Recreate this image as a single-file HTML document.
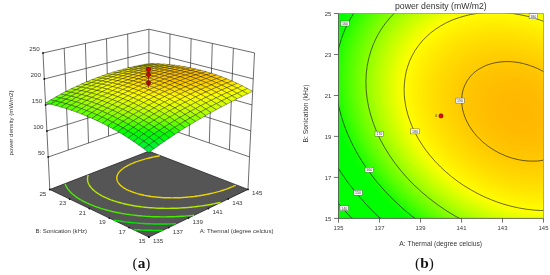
<!DOCTYPE html><html><head><meta charset="utf-8"><title>power density</title><style>html,body{margin:0;padding:0;background:#fff}body{width:550px;height:275px;overflow:hidden;position:relative}</style></head><body><svg width="550" height="275" viewBox="0 0 550 275" style="position:absolute;left:0;top:0">
<rect width="550" height="275" fill="#fff"/>
<g stroke="#2e2e2e" stroke-width="0.7" fill="none">
<path d="M48.2,157.0 L43.0,53.0"/>
<path d="M249.5,156.9 L254.5,52.9"/>
<path d="M68.3,150.0 L64.2,48.2"/>
<path d="M229.4,149.9 L233.4,48.2"/>
<path d="M88.5,143.0 L85.4,43.5"/>
<path d="M209.3,143.0 L212.3,43.4"/>
<path d="M108.6,136.1 L106.5,38.7"/>
<path d="M189.2,136.0 L191.1,38.7"/>
<path d="M128.8,129.1 L127.7,34.0"/>
<path d="M169.0,129.1 L170.0,33.9"/>
<path d="M148.9,122.1 L148.9,29.2"/>
<path d="M48.2,157.0 L148.9,122.1 L249.5,156.9"/>
<path d="M46.9,131.0 L148.9,98.9 L250.8,130.9"/>
<path d="M45.6,105.0 L148.9,75.7 L252.0,104.9"/>
<path d="M44.3,79.0 L148.9,52.4 L253.3,78.9"/>
<path d="M43.0,53.0 L148.9,29.2 L254.5,52.9"/>
<path d="M48.2,157.0 L49.8,189.5"/>
<path d="M249.5,156.9 L248.0,189.4"/>
</g>
<path d="M49.8,189.5 L148.9,237.1 L248.0,189.4 L148.9,151.2 Z" fill="#555" stroke="#111" stroke-width="0.7"/>
<path d="M134.0,229.5 L136.4,229.7 L138.7,229.8 L141.1,230.0 L143.4,230.1 L145.8,230.2 L148.2,230.3 L150.6,230.3 L153.0,230.4 L155.4,230.4 L157.8,230.4 L160.2,230.4 L162.7,230.4" fill="none" stroke="#00ea00" stroke-width="1.4"/>
<path d="M113.7,220.1 L115.6,220.4 L117.5,220.7 L119.4,221.0 L121.3,221.3 L123.3,221.6 L125.3,221.9 L127.3,222.1 L129.3,222.3 L131.3,222.6 L133.3,222.8 L135.4,222.9 L137.4,223.1 L139.5,223.3 L141.6,223.4 L143.7,223.5 L145.8,223.7 L147.9,223.8 L150.0,223.8 L152.1,223.9 L154.2,224.0 L156.4,224.0 L158.5,224.0 L160.7,224.0 L162.9,224.0 L165.0,224.0 L167.2,224.0 L169.4,223.9 L171.6,223.9 L173.7,223.8 L175.9,223.7" fill="none" stroke="#00ea00" stroke-width="1.4"/>
<path d="M65.1,183.7 L65.3,184.4 L65.6,185.0 L65.8,185.6 L66.1,186.3 L66.5,186.9 L66.9,187.5 L67.3,188.1 L67.7,188.8 L67.7,188.8 L68.1,189.4 L68.6,190.0 L69.1,190.6 L69.7,191.2 L70.2,191.8 L70.8,192.5 L71.5,193.1 L72.1,193.7 L72.8,194.3 L73.5,194.9 L74.2,195.4 L75.0,196.0 L75.8,196.6 L76.6,197.2 L77.5,197.8 L78.3,198.3 L79.2,198.9 L80.2,199.5 L81.1,200.0 L82.1,200.6 L83.1,201.1 L84.1,201.6 L85.2,202.2 L86.2,202.7 L87.3,203.2 L88.5,203.7 L89.6,204.2 L90.8,204.7 L92.0,205.2 L93.2,205.7 L94.4,206.1 L95.7,206.6 L97.0,207.1 L98.3,207.5 L99.6,207.9 L100.9,208.4 L102.3,208.8 L103.7,209.2 L105.1,209.6 L106.5,210.0 L108.0,210.4 L109.4,210.8 L110.9,211.1 L112.4,211.5 L114.0,211.8 L115.5,212.2 L117.0,212.5 L118.6,212.8 L120.2,213.1 L121.8,213.4 L123.4,213.7 L125.1,213.9 L126.7,214.2 L128.4,214.4 L130.1,214.7 L131.7,214.9 L133.4,215.1 L135.2,215.3 L136.9,215.5 L138.6,215.7 L140.4,215.8 L142.2,216.0 L143.9,216.1 L145.7,216.3 L147.5,216.4 L149.3,216.5 L151.1,216.6 L152.9,216.7 L154.8,216.7 L156.6,216.8 L158.4,216.8 L160.3,216.9 L162.1,216.9 L164.0,216.9 L165.9,216.9 L167.7,216.8 L169.6,216.8 L171.5,216.8 L173.4,216.7 L175.3,216.6 L177.1,216.5 L179.0,216.5 L180.9,216.3 L182.8,216.2 L184.7,216.1 L186.6,215.9 L188.5,215.8 L190.4,215.6 L192.3,215.4 L194.1,215.2" fill="none" stroke="#48ea00" stroke-width="1.4"/>
<path d="M88.3,174.9 L88.1,175.4 L87.9,175.9 L87.8,176.4 L87.7,176.9 L87.6,177.4 L87.6,177.9 L87.5,178.4 L87.5,178.9 L87.5,179.4 L87.6,179.9 L87.6,180.4 L87.7,180.9 L87.8,181.4 L87.9,181.9 L88.1,182.5 L88.3,183.0 L88.5,183.5 L88.7,184.0 L89.0,184.5 L89.2,185.0 L89.5,185.5 L89.9,186.0 L90.2,186.5 L90.2,186.5 L90.6,187.0 L91.0,187.4 L91.4,187.9 L91.8,188.4 L92.3,188.9 L92.7,189.4 L93.3,189.9 L93.8,190.3 L94.3,190.8 L94.9,191.3 L95.5,191.8 L96.1,192.2 L96.8,192.7 L97.4,193.1 L98.1,193.6 L98.8,194.0 L99.5,194.5 L100.3,194.9 L101.0,195.3 L101.8,195.8 L102.6,196.2 L103.5,196.6 L104.3,197.0 L105.2,197.4 L106.1,197.8 L107.0,198.2 L107.9,198.6 L108.8,199.0 L109.8,199.4 L110.8,199.8 L111.8,200.1 L112.8,200.5 L113.8,200.8 L114.9,201.2 L116.0,201.5 L117.1,201.9 L118.2,202.2 L119.3,202.5 L120.4,202.8 L121.6,203.1 L122.7,203.4 L123.9,203.7 L125.1,204.0 L126.3,204.3 L127.6,204.5 L128.8,204.8 L130.1,205.0 L131.3,205.3 L132.6,205.5 L133.9,205.7 L135.2,206.0 L136.5,206.2 L137.9,206.4 L139.2,206.5 L140.6,206.7 L141.9,206.9 L143.3,207.1 L144.7,207.2 L146.1,207.4 L147.5,207.5 L148.9,207.6 L150.3,207.7 L151.8,207.8 L153.2,207.9 L154.7,208.0 L156.1,208.1 L157.6,208.2 L159.1,208.2 L160.5,208.3 L162.0,208.3 L163.5,208.3 L165.0,208.4 L166.5,208.4 L168.0,208.4 L169.5,208.4 L171.0,208.3 L172.5,208.3 L174.0,208.3 L175.6,208.2 L177.1,208.2 L178.6,208.1 L180.1,208.0 L181.6,207.9 L183.2,207.8 L184.7,207.7 L186.2,207.6 L187.8,207.5 L189.3,207.4 L190.8,207.2 L192.3,207.0 L193.8,206.9 L195.4,206.7 L196.9,206.5 L198.4,206.3 L199.9,206.1 L201.4,205.9 L202.9,205.7 L204.4,205.5 L205.9,205.2 L207.4,205.0 L208.9,204.7 L210.3,204.5 L211.8,204.2 L213.3,203.9 L214.7,203.6 L216.2,203.3 L217.6,203.0 L219.1,202.7 L220.5,202.4" fill="none" stroke="#b2ea00" stroke-width="1.4"/>
<path d="M159.7,155.8 L158.7,156.0 L157.8,156.2 L156.8,156.3 L155.8,156.5 L154.8,156.7 L153.9,156.9 L152.9,157.1 L152.0,157.3 L151.1,157.5 L150.2,157.8 L149.2,158.0 L148.3,158.2 L147.4,158.4 L146.5,158.7 L145.7,158.9 L144.8,159.1 L143.9,159.4 L143.1,159.6 L142.3,159.9 L141.4,160.1 L140.6,160.4 L139.8,160.6 L139.0,160.9 L138.2,161.1 L137.5,161.4 L136.7,161.7 L135.9,161.9 L135.2,162.2 L134.5,162.5 L133.8,162.8 L133.1,163.1 L132.4,163.4 L131.7,163.6 L131.1,163.9 L130.4,164.2 L129.8,164.5 L129.2,164.8 L128.5,165.1 L128.0,165.5 L127.4,165.8 L126.8,166.1 L126.3,166.4 L125.7,166.7 L125.2,167.0 L124.7,167.3 L124.2,167.7 L123.7,168.0 L123.3,168.3 L122.8,168.7 L122.4,169.0 L122.0,169.3 L121.6,169.7 L121.2,170.0 L120.8,170.3 L120.5,170.7 L120.1,171.0 L119.8,171.4 L119.5,171.7 L119.2,172.0 L118.9,172.4 L118.7,172.7 L118.4,173.1 L118.2,173.4 L118.0,173.8 L117.8,174.1 L117.6,174.5 L117.5,174.8 L117.3,175.2 L117.2,175.5 L117.1,175.9 L117.0,176.3 L116.9,176.6 L116.9,177.0 L116.8,177.3 L116.8,177.7 L116.8,178.0 L116.8,178.4 L116.8,178.7 L116.9,179.1 L116.9,179.4 L117.0,179.8 L117.1,180.1 L117.2,180.5 L117.3,180.8 L117.5,181.2 L117.6,181.5 L117.8,181.9 L118.0,182.2 L118.2,182.6 L118.4,182.9 L118.7,183.2 L118.7,183.2 L118.9,183.6 L119.2,183.9 L119.5,184.3 L119.8,184.6 L120.1,184.9 L120.4,185.2 L120.8,185.6 L121.2,185.9 L121.6,186.2 L122.0,186.5 L122.4,186.8 L122.8,187.2 L123.3,187.5 L123.7,187.8 L124.2,188.1 L124.7,188.4 L125.2,188.7 L125.7,189.0 L126.2,189.3 L126.8,189.6 L127.4,189.8 L127.9,190.1 L128.5,190.4 L129.1,190.7 L129.8,190.9 L130.4,191.2 L131.0,191.5 L131.7,191.7 L132.4,192.0 L133.1,192.2 L133.8,192.5 L134.5,192.7 L135.2,192.9 L135.9,193.2 L136.7,193.4 L137.4,193.6 L138.2,193.8 L139.0,194.1 L139.8,194.3 L140.6,194.5 L141.4,194.7 L142.2,194.8 L143.1,195.0 L143.9,195.2 L144.8,195.4 L145.6,195.6 L146.5,195.7 L147.4,195.9 L148.3,196.0 L149.2,196.2 L150.1,196.3 L151.1,196.5 L152.0,196.6 L152.9,196.7 L153.9,196.8 L154.8,196.9 L155.8,197.0 L156.8,197.1 L157.7,197.2 L158.7,197.3 L159.7,197.4 L160.7,197.5 L161.7,197.5 L162.7,197.6 L163.7,197.7 L164.7,197.7 L165.8,197.7 L166.8,197.8 L167.8,197.8 L168.8,197.8 L169.9,197.8 L170.9,197.9 L172.0,197.9 L173.0,197.9 L174.1,197.8 L175.1,197.8 L176.2,197.8 L177.3,197.8 L178.3,197.7 L179.4,197.7 L180.4,197.7 L181.5,197.6 L182.6,197.5 L183.6,197.5 L184.7,197.4 L185.8,197.3 L186.8,197.2 L187.9,197.1 L189.0,197.0 L190.0,196.9 L191.1,196.8 L192.2,196.7 L193.2,196.6 L194.3,196.5 L195.3,196.3 L196.4,196.2 L197.4,196.0 L198.5,195.9 L199.5,195.7 L200.6,195.5 L201.6,195.4 L202.6,195.2 L203.7,195.0 L204.7,194.8 L205.7,194.6 L206.7,194.4 L207.7,194.2 L208.7,194.0 L209.7,193.8 L210.7,193.6 L211.7,193.3 L212.7,193.1 L213.6,192.9 L214.6,192.6 L215.5,192.4 L216.5,192.1 L217.4,191.9 L218.4,191.6 L219.3,191.4 L220.2,191.1 L221.1,190.8 L222.0,190.5 L222.9,190.2 L223.8,190.0 L224.6,189.7 L225.5,189.4 L226.3,189.1 L227.2,188.8 L228.0,188.5 L228.8,188.2 L229.6,187.8 L230.4,187.5 L231.2,187.2 L232.0,186.9 L232.7,186.6 L233.5,186.2 L234.2,185.9 L235.0,185.6 L235.7,185.2" fill="none" stroke="#ead500" stroke-width="1.4"/>
<g stroke="#000" stroke-opacity="0.75" stroke-width="0.45" stroke-linejoin="round">
<path d="M148.9,64.6 L154.1,63.6 L148.9,63.5 L143.7,64.5 Z" fill="#eeff00"/>
<path d="M143.7,65.7 L148.9,64.6 L143.7,64.5 L138.5,65.5 Z" fill="#f3ff00"/>
<path d="M154.1,64.8 L159.3,63.8 L154.1,63.6 L148.9,64.6 Z" fill="#fdff00"/>
<path d="M138.5,66.9 L143.7,65.7 L138.5,65.5 L133.3,66.7 Z" fill="#f6ff00"/>
<path d="M148.9,66.0 L154.1,64.8 L148.9,64.6 L143.7,65.7 Z" fill="#fffd00"/>
<path d="M159.3,65.2 L164.5,64.2 L159.3,63.8 L154.1,64.8 Z" fill="#fff300"/>
<path d="M133.3,68.2 L138.5,66.9 L133.3,66.7 L128.1,67.9 Z" fill="#f8ff00"/>
<path d="M143.7,67.2 L148.9,66.0 L143.7,65.7 L138.5,66.9 Z" fill="#fff900"/>
<path d="M154.1,66.4 L159.3,65.2 L154.1,64.8 L148.9,66.0 Z" fill="#ffee00"/>
<path d="M164.5,65.8 L169.7,64.6 L164.5,64.2 L159.3,65.2 Z" fill="#ffe600"/>
<path d="M128.1,69.6 L133.3,68.2 L128.1,67.9 L122.9,69.3 Z" fill="#f9ff00"/>
<path d="M138.5,68.6 L143.7,67.2 L138.5,66.9 L133.3,68.2 Z" fill="#fff700"/>
<path d="M148.9,67.7 L154.1,66.4 L148.9,66.0 L143.7,67.2 Z" fill="#ffec00"/>
<path d="M159.3,67.0 L164.5,65.8 L159.3,65.2 L154.1,66.4 Z" fill="#ffe200"/>
<path d="M169.7,66.4 L174.9,65.2 L169.7,64.6 L164.5,65.8 Z" fill="#ffdb00"/>
<path d="M122.9,71.1 L128.1,69.6 L122.9,69.3 L117.7,70.8 Z" fill="#f8ff00"/>
<path d="M133.3,70.0 L138.5,68.6 L133.3,68.2 L128.1,69.6 Z" fill="#fff700"/>
<path d="M143.7,69.1 L148.9,67.7 L143.7,67.2 L138.5,68.6 Z" fill="#ffea00"/>
<path d="M154.1,68.3 L159.3,67.0 L154.1,66.4 L148.9,67.7 Z" fill="#ffe000"/>
<path d="M164.5,67.7 L169.7,66.4 L164.5,65.8 L159.3,67.0 Z" fill="#ffd800"/>
<path d="M174.9,67.2 L180.1,66.0 L174.9,65.2 L169.7,66.4 Z" fill="#ffd200"/>
<path d="M117.7,72.7 L122.9,71.1 L117.7,70.8 L112.5,72.3 Z" fill="#f7ff00"/>
<path d="M128.1,71.6 L133.3,70.0 L128.1,69.6 L122.9,71.1 Z" fill="#fff800"/>
<path d="M138.5,70.6 L143.7,69.1 L138.5,68.6 L133.3,70.0 Z" fill="#ffea00"/>
<path d="M148.9,69.8 L154.1,68.3 L148.9,67.7 L143.7,69.1 Z" fill="#ffdf00"/>
<path d="M159.3,69.1 L164.5,67.7 L159.3,67.0 L154.1,68.3 Z" fill="#ffd600"/>
<path d="M169.7,68.5 L174.9,67.2 L169.7,66.4 L164.5,67.7 Z" fill="#ffcf00"/>
<path d="M180.1,68.1 L185.3,66.8 L180.1,66.0 L174.9,67.2 Z" fill="#ffcb00"/>
<path d="M112.5,74.4 L117.7,72.7 L112.5,72.3 L107.3,74.0 Z" fill="#f4ff00"/>
<path d="M122.8,73.3 L128.1,71.6 L122.9,71.1 L117.7,72.7 Z" fill="#fffa00"/>
<path d="M133.2,72.2 L138.5,70.6 L133.3,70.0 L128.1,71.6 Z" fill="#ffeb00"/>
<path d="M143.7,71.3 L148.9,69.8 L143.7,69.1 L138.5,70.6 Z" fill="#ffdf00"/>
<path d="M154.1,70.6 L159.3,69.1 L154.1,68.3 L148.9,69.8 Z" fill="#ffd500"/>
<path d="M164.5,70.0 L169.7,68.5 L164.5,67.7 L159.3,69.1 Z" fill="#ffcd00"/>
<path d="M174.9,69.5 L180.1,68.1 L174.9,67.2 L169.7,68.5 Z" fill="#ffc800"/>
<path d="M185.3,69.2 L190.5,67.8 L185.3,66.8 L180.1,68.1 Z" fill="#ffc600"/>
<path d="M107.3,76.3 L112.5,74.4 L107.3,74.0 L102.1,75.8 Z" fill="#f0ff00"/>
<path d="M117.6,75.0 L122.8,73.3 L117.7,72.7 L112.5,74.4 Z" fill="#fffd00"/>
<path d="M128.0,73.9 L133.2,72.2 L128.1,71.6 L122.8,73.3 Z" fill="#ffee00"/>
<path d="M138.4,73.0 L143.7,71.3 L138.5,70.6 L133.2,72.2 Z" fill="#ffe000"/>
<path d="M148.9,72.2 L154.1,70.6 L148.9,69.8 L143.7,71.3 Z" fill="#ffd500"/>
<path d="M159.3,71.5 L164.5,70.0 L159.3,69.1 L154.1,70.6 Z" fill="#ffcd00"/>
<path d="M169.7,71.0 L174.9,69.5 L169.7,68.5 L164.5,70.0 Z" fill="#ffc700"/>
<path d="M180.1,70.7 L185.3,69.2 L180.1,68.1 L174.9,69.5 Z" fill="#ffc300"/>
<path d="M190.5,70.4 L195.8,69.0 L190.5,67.8 L185.3,69.2 Z" fill="#ffc300"/>
<path d="M102.1,78.2 L107.3,76.3 L102.1,75.8 L96.9,77.7 Z" fill="#eaff00"/>
<path d="M112.5,76.9 L117.6,75.0 L112.5,74.4 L107.3,76.3 Z" fill="#fcff00"/>
<path d="M122.8,75.8 L128.0,73.9 L122.8,73.3 L117.6,75.0 Z" fill="#fff100"/>
<path d="M133.2,74.8 L138.4,73.0 L133.2,72.2 L128.0,73.9 Z" fill="#ffe300"/>
<path d="M143.6,73.9 L148.9,72.2 L143.7,71.3 L138.4,73.0 Z" fill="#ffd700"/>
<path d="M154.1,73.2 L159.3,71.5 L154.1,70.6 L148.9,72.2 Z" fill="#ffce00"/>
<path d="M164.5,72.7 L169.7,71.0 L164.5,70.0 L159.3,71.5 Z" fill="#ffc700"/>
<path d="M174.9,72.2 L180.1,70.7 L174.9,69.5 L169.7,71.0 Z" fill="#ffc200"/>
<path d="M185.3,71.9 L190.5,70.4 L185.3,69.2 L180.1,70.7 Z" fill="#ffc000"/>
<path d="M195.8,71.7 L201.0,70.2 L195.8,69.0 L190.5,70.4 Z" fill="#ffc100"/>
<path d="M96.9,80.3 L102.1,78.2 L96.9,77.7 L91.7,79.7 Z" fill="#e3ff00"/>
<path d="M107.3,78.9 L112.5,76.9 L107.3,76.3 L102.1,78.2 Z" fill="#f6ff00"/>
<path d="M117.6,77.7 L122.8,75.8 L117.6,75.0 L112.5,76.9 Z" fill="#fff700"/>
<path d="M128.0,76.6 L133.2,74.8 L128.0,73.9 L122.8,75.8 Z" fill="#ffe700"/>
<path d="M138.4,75.7 L143.6,73.9 L138.4,73.0 L133.2,74.8 Z" fill="#ffda00"/>
<path d="M148.9,75.0 L154.1,73.2 L148.9,72.2 L143.6,73.9 Z" fill="#ffd000"/>
<path d="M159.3,74.4 L164.5,72.7 L159.3,71.5 L154.1,73.2 Z" fill="#ffc800"/>
<path d="M169.7,73.9 L174.9,72.2 L169.7,71.0 L164.5,72.7 Z" fill="#ffc300"/>
<path d="M180.1,73.6 L185.3,71.9 L180.1,70.7 L174.9,72.2 Z" fill="#ffc000"/>
<path d="M190.5,73.4 L195.8,71.7 L190.5,70.4 L185.3,71.9 Z" fill="#ffbf00"/>
<path d="M201.0,73.2 L206.2,71.7 L201.0,70.2 L195.8,71.7 Z" fill="#ffc100"/>
<path d="M91.7,82.5 L96.9,80.3 L91.7,79.7 L86.6,81.8 Z" fill="#daff00"/>
<path d="M102.1,81.0 L107.3,78.9 L102.1,78.2 L96.9,80.3 Z" fill="#efff00"/>
<path d="M112.4,79.8 L117.6,77.7 L112.5,76.9 L107.3,78.9 Z" fill="#fffd00"/>
<path d="M122.8,78.6 L128.0,76.6 L122.8,75.8 L117.6,77.7 Z" fill="#ffed00"/>
<path d="M133.2,77.7 L138.4,75.7 L133.2,74.8 L128.0,76.6 Z" fill="#ffdf00"/>
<path d="M143.6,76.9 L148.9,75.0 L143.6,73.9 L138.4,75.7 Z" fill="#ffd300"/>
<path d="M154.1,76.2 L159.3,74.4 L154.1,73.2 L148.9,75.0 Z" fill="#ffcb00"/>
<path d="M164.5,75.7 L169.7,73.9 L164.5,72.7 L159.3,74.4 Z" fill="#ffc400"/>
<path d="M174.9,75.3 L180.1,73.6 L174.9,72.2 L169.7,73.9 Z" fill="#ffc000"/>
<path d="M185.3,75.1 L190.5,73.4 L185.3,71.9 L180.1,73.6 Z" fill="#ffbf00"/>
<path d="M195.7,74.9 L201.0,73.2 L195.8,71.7 L190.5,73.4 Z" fill="#ffc000"/>
<path d="M206.2,74.9 L211.4,73.2 L206.2,71.7 L201.0,73.2 Z" fill="#ffc300"/>
<path d="M86.5,84.7 L91.7,82.5 L86.6,81.8 L81.4,84.0 Z" fill="#d0ff00"/>
<path d="M96.9,83.3 L102.1,81.0 L96.9,80.3 L91.7,82.5 Z" fill="#e7ff00"/>
<path d="M107.3,81.9 L112.4,79.8 L107.3,78.9 L102.1,81.0 Z" fill="#f9ff00"/>
<path d="M117.6,80.7 L122.8,78.6 L117.6,77.7 L112.4,79.8 Z" fill="#fff400"/>
<path d="M128.0,79.7 L133.2,77.7 L128.0,76.6 L122.8,78.6 Z" fill="#ffe500"/>
<path d="M138.4,78.9 L143.6,76.9 L138.4,75.7 L133.2,77.7 Z" fill="#ffd800"/>
<path d="M148.8,78.1 L154.1,76.2 L148.9,75.0 L143.6,76.9 Z" fill="#ffce00"/>
<path d="M159.3,77.6 L164.5,75.7 L159.3,74.4 L154.1,76.2 Z" fill="#ffc700"/>
<path d="M169.7,77.2 L174.9,75.3 L169.7,73.9 L164.5,75.7 Z" fill="#ffc200"/>
<path d="M180.1,76.9 L185.3,75.1 L180.1,73.6 L174.9,75.3 Z" fill="#ffc000"/>
<path d="M190.5,76.7 L195.7,74.9 L190.5,73.4 L185.3,75.1 Z" fill="#ffbf00"/>
<path d="M200.9,76.7 L206.2,74.9 L201.0,73.2 L195.7,74.9 Z" fill="#ffc200"/>
<path d="M211.4,76.7 L216.6,74.9 L211.4,73.2 L206.2,74.9 Z" fill="#ffc700"/>
<path d="M81.4,87.2 L86.5,84.7 L81.4,84.0 L76.2,86.4 Z" fill="#c4ff00"/>
<path d="M91.7,85.6 L96.9,83.3 L91.7,82.5 L86.5,84.7 Z" fill="#ddff00"/>
<path d="M102.1,84.2 L107.3,81.9 L102.1,81.0 L96.9,83.3 Z" fill="#f1ff00"/>
<path d="M112.4,83.0 L117.6,80.7 L112.4,79.8 L107.3,81.9 Z" fill="#fffc00"/>
<path d="M122.8,81.9 L128.0,79.7 L122.8,78.6 L117.6,80.7 Z" fill="#ffec00"/>
<path d="M133.2,81.0 L138.4,78.9 L133.2,77.7 L128.0,79.7 Z" fill="#ffdf00"/>
<path d="M143.6,80.2 L148.8,78.1 L143.6,76.9 L138.4,78.9 Z" fill="#ffd400"/>
<path d="M154.1,79.6 L159.3,77.6 L154.1,76.2 L148.8,78.1 Z" fill="#ffcb00"/>
<path d="M164.5,79.1 L169.7,77.2 L164.5,75.7 L159.3,77.6 Z" fill="#ffc500"/>
<path d="M174.9,78.8 L180.1,76.9 L174.9,75.3 L169.7,77.2 Z" fill="#ffc200"/>
<path d="M185.3,78.6 L190.5,76.7 L185.3,75.1 L180.1,76.9 Z" fill="#ffc100"/>
<path d="M195.7,78.5 L200.9,76.7 L195.7,74.9 L190.5,76.7 Z" fill="#ffc200"/>
<path d="M206.1,78.6 L211.4,76.7 L206.2,74.9 L200.9,76.7 Z" fill="#ffc600"/>
<path d="M216.5,78.7 L221.8,76.8 L216.6,74.9 L211.4,76.7 Z" fill="#ffcd00"/>
<path d="M76.2,89.7 L81.4,87.2 L76.2,86.4 L71.1,88.8 Z" fill="#b3ff00"/>
<path d="M86.6,88.1 L91.7,85.6 L86.5,84.7 L81.4,87.2 Z" fill="#d1ff00"/>
<path d="M96.9,86.6 L102.1,84.2 L96.9,83.3 L91.7,85.6 Z" fill="#e7ff00"/>
<path d="M107.3,85.3 L112.4,83.0 L107.3,81.9 L102.1,84.2 Z" fill="#f9ff00"/>
<path d="M117.6,84.2 L122.8,81.9 L117.6,80.7 L112.4,83.0 Z" fill="#fff500"/>
<path d="M128.0,83.2 L133.2,81.0 L128.0,79.7 L122.8,81.9 Z" fill="#ffe600"/>
<path d="M138.4,82.4 L143.6,80.2 L138.4,78.9 L133.2,81.0 Z" fill="#ffda00"/>
<path d="M148.8,81.7 L154.1,79.6 L148.8,78.1 L143.6,80.2 Z" fill="#ffd100"/>
<path d="M159.3,81.2 L164.5,79.1 L159.3,77.6 L154.1,79.6 Z" fill="#ffca00"/>
<path d="M169.7,80.8 L174.9,78.8 L169.7,77.2 L164.5,79.1 Z" fill="#ffc500"/>
<path d="M180.1,80.6 L185.3,78.6 L180.1,76.9 L174.9,78.8 Z" fill="#ffc300"/>
<path d="M190.5,80.5 L195.7,78.5 L190.5,76.7 L185.3,78.6 Z" fill="#ffc400"/>
<path d="M200.9,80.5 L206.1,78.6 L200.9,76.7 L195.7,78.5 Z" fill="#ffc700"/>
<path d="M211.3,80.6 L216.5,78.7 L211.4,76.7 L206.1,78.6 Z" fill="#ffcc00"/>
<path d="M221.7,80.8 L226.9,78.8 L221.8,76.8 L216.5,78.7 Z" fill="#ffd400"/>
<path d="M71.1,92.3 L76.2,89.7 L71.1,88.8 L65.9,91.4 Z" fill="#a0ff00"/>
<path d="M81.4,90.7 L86.6,88.1 L81.4,87.2 L76.2,89.7 Z" fill="#c2ff00"/>
<path d="M91.7,89.2 L96.9,86.6 L91.7,85.6 L86.6,88.1 Z" fill="#dbff00"/>
<path d="M102.1,87.8 L107.3,85.3 L102.1,84.2 L96.9,86.6 Z" fill="#efff00"/>
<path d="M112.5,86.6 L117.6,84.2 L112.4,83.0 L107.3,85.3 Z" fill="#ffff00"/>
<path d="M122.8,85.5 L128.0,83.2 L122.8,81.9 L117.6,84.2 Z" fill="#ffef00"/>
<path d="M133.2,84.6 L138.4,82.4 L133.2,81.0 L128.0,83.2 Z" fill="#ffe200"/>
<path d="M143.6,83.9 L148.8,81.7 L143.6,80.2 L138.4,82.4 Z" fill="#ffd800"/>
<path d="M154.1,83.3 L159.3,81.2 L154.1,79.6 L148.8,81.7 Z" fill="#ffd000"/>
<path d="M164.5,82.9 L169.7,80.8 L164.5,79.1 L159.3,81.2 Z" fill="#ffca00"/>
<path d="M174.9,82.7 L180.1,80.6 L174.9,78.8 L169.7,80.8 Z" fill="#ffc700"/>
<path d="M185.3,82.5 L190.5,80.5 L185.3,78.6 L180.1,80.6 Z" fill="#ffc700"/>
<path d="M195.7,82.5 L200.9,80.5 L195.7,78.5 L190.5,80.5 Z" fill="#ffc900"/>
<path d="M206.1,82.6 L211.3,80.6 L206.1,78.6 L200.9,80.5 Z" fill="#ffcd00"/>
<path d="M216.5,82.8 L221.7,80.8 L216.5,78.7 L211.3,80.6 Z" fill="#ffd400"/>
<path d="M226.9,83.0 L232.1,81.0 L226.9,78.8 L221.7,80.8 Z" fill="#ffdd00"/>
<path d="M66.0,95.1 L71.1,92.3 L65.9,91.4 L60.8,94.1 Z" fill="#8bff00"/>
<path d="M76.3,93.4 L81.4,90.7 L76.2,89.7 L71.1,92.3 Z" fill="#afff00"/>
<path d="M86.6,91.8 L91.7,89.2 L86.6,88.1 L81.4,90.7 Z" fill="#cdff00"/>
<path d="M96.9,90.4 L102.1,87.8 L96.9,86.6 L91.7,89.2 Z" fill="#e3ff00"/>
<path d="M107.3,89.1 L112.5,86.6 L107.3,85.3 L102.1,87.8 Z" fill="#f5ff00"/>
<path d="M117.6,88.0 L122.8,85.5 L117.6,84.2 L112.5,86.6 Z" fill="#fff900"/>
<path d="M128.0,87.0 L133.2,84.6 L128.0,83.2 L122.8,85.5 Z" fill="#ffeb00"/>
<path d="M138.4,86.2 L143.6,83.9 L138.4,82.4 L133.2,84.6 Z" fill="#ffe000"/>
<path d="M148.8,85.6 L154.1,83.3 L148.8,81.7 L143.6,83.9 Z" fill="#ffd700"/>
<path d="M159.3,85.2 L164.5,82.9 L159.3,81.2 L154.1,83.3 Z" fill="#ffd100"/>
<path d="M169.7,84.8 L174.9,82.7 L169.7,80.8 L164.5,82.9 Z" fill="#ffcc00"/>
<path d="M180.1,84.7 L185.3,82.5 L180.1,80.6 L174.9,82.7 Z" fill="#ffcb00"/>
<path d="M190.5,84.7 L195.7,82.5 L190.5,80.5 L185.3,82.5 Z" fill="#ffcc00"/>
<path d="M200.9,84.7 L206.1,82.6 L200.9,80.5 L195.7,82.5 Z" fill="#ffcf00"/>
<path d="M211.3,84.9 L216.5,82.8 L211.3,80.6 L206.1,82.6 Z" fill="#ffd500"/>
<path d="M221.7,85.2 L226.9,83.0 L221.7,80.8 L216.5,82.8 Z" fill="#ffde00"/>
<path d="M232.0,85.5 L237.3,83.3 L232.1,81.0 L226.9,83.0 Z" fill="#ffe800"/>
<path d="M60.8,98.0 L66.0,95.1 L60.8,94.1 L55.7,97.0 Z" fill="#72ff00"/>
<path d="M71.1,96.2 L76.3,93.4 L71.1,92.3 L66.0,95.1 Z" fill="#9aff00"/>
<path d="M81.4,94.6 L86.6,91.8 L81.4,90.7 L76.3,93.4 Z" fill="#bcff00"/>
<path d="M91.8,93.1 L96.9,90.4 L91.7,89.2 L86.6,91.8 Z" fill="#d5ff00"/>
<path d="M102.1,91.7 L107.3,89.1 L102.1,87.8 L96.9,90.4 Z" fill="#eaff00"/>
<path d="M112.5,90.6 L117.6,88.0 L112.5,86.6 L107.3,89.1 Z" fill="#f9ff00"/>
<path d="M122.8,89.5 L128.0,87.0 L122.8,85.5 L117.6,88.0 Z" fill="#fff600"/>
<path d="M133.2,88.7 L138.4,86.2 L133.2,84.6 L128.0,87.0 Z" fill="#ffea00"/>
<path d="M143.6,88.0 L148.8,85.6 L143.6,83.9 L138.4,86.2 Z" fill="#ffe000"/>
<path d="M154.0,87.5 L159.3,85.2 L154.1,83.3 L148.8,85.6 Z" fill="#ffd800"/>
<path d="M164.5,87.1 L169.7,84.8 L164.5,82.9 L159.3,85.2 Z" fill="#ffd300"/>
<path d="M174.9,86.9 L180.1,84.7 L174.9,82.7 L169.7,84.8 Z" fill="#ffd100"/>
<path d="M185.3,86.9 L190.5,84.7 L185.3,82.5 L180.1,84.7 Z" fill="#ffd100"/>
<path d="M195.7,86.9 L200.9,84.7 L195.7,82.5 L190.5,84.7 Z" fill="#ffd300"/>
<path d="M206.1,87.1 L211.3,84.9 L206.1,82.6 L200.9,84.7 Z" fill="#ffd800"/>
<path d="M216.5,87.4 L221.7,85.2 L216.5,82.8 L211.3,84.9 Z" fill="#ffdf00"/>
<path d="M226.8,87.7 L232.0,85.5 L226.9,83.0 L221.7,85.2 Z" fill="#ffe900"/>
<path d="M237.2,88.1 L242.4,85.8 L237.3,83.3 L232.0,85.5 Z" fill="#fff500"/>
<path d="M55.7,101.1 L60.8,98.0 L55.7,97.0 L50.6,99.9 Z" fill="#57ff00"/>
<path d="M66.0,99.2 L71.1,96.2 L66.0,95.1 L60.8,98.0 Z" fill="#81ff00"/>
<path d="M76.3,97.5 L81.4,94.6 L76.3,93.4 L71.1,96.2 Z" fill="#a6ff00"/>
<path d="M86.6,95.9 L91.8,93.1 L86.6,91.8 L81.4,94.6 Z" fill="#c6ff00"/>
<path d="M96.9,94.5 L102.1,91.7 L96.9,90.4 L91.8,93.1 Z" fill="#dbff00"/>
<path d="M107.3,93.3 L112.5,90.6 L107.3,89.1 L102.1,91.7 Z" fill="#eeff00"/>
<path d="M117.7,92.2 L122.8,89.5 L117.6,88.0 L112.5,90.6 Z" fill="#fcff00"/>
<path d="M128.0,91.2 L133.2,88.7 L128.0,87.0 L122.8,89.5 Z" fill="#fff500"/>
<path d="M138.4,90.5 L143.6,88.0 L138.4,86.2 L133.2,88.7 Z" fill="#ffea00"/>
<path d="M148.8,89.9 L154.0,87.5 L148.8,85.6 L143.6,88.0 Z" fill="#ffe100"/>
<path d="M159.2,89.5 L164.5,87.1 L159.3,85.2 L154.0,87.5 Z" fill="#ffdb00"/>
<path d="M169.7,89.3 L174.9,86.9 L169.7,84.8 L164.5,87.1 Z" fill="#ffd800"/>
<path d="M180.1,89.2 L185.3,86.9 L180.1,84.7 L174.9,86.9 Z" fill="#ffd600"/>
<path d="M190.5,89.2 L195.7,86.9 L190.5,84.7 L185.3,86.9 Z" fill="#ffd800"/>
<path d="M200.9,89.4 L206.1,87.1 L200.9,84.7 L195.7,86.9 Z" fill="#ffdc00"/>
<path d="M211.2,89.6 L216.5,87.4 L211.3,84.9 L206.1,87.1 Z" fill="#ffe200"/>
<path d="M221.6,90.0 L226.8,87.7 L221.7,85.2 L216.5,87.4 Z" fill="#ffeb00"/>
<path d="M232.0,90.4 L237.2,88.1 L232.0,85.5 L226.8,87.7 Z" fill="#fff600"/>
<path d="M242.3,90.8 L247.5,88.5 L242.4,85.8 L237.2,88.1 Z" fill="#faff00"/>
<path d="M50.6,104.2 L55.7,101.1 L50.6,99.9 L45.5,103.0 Z" fill="#39ff00"/>
<path d="M60.9,102.3 L66.0,99.2 L60.8,98.0 L55.7,101.1 Z" fill="#66ff00"/>
<path d="M71.2,100.5 L76.3,97.5 L71.1,96.2 L66.0,99.2 Z" fill="#8eff00"/>
<path d="M81.5,98.9 L86.6,95.9 L81.4,94.6 L76.3,97.5 Z" fill="#b0ff00"/>
<path d="M91.8,97.4 L96.9,94.5 L91.8,93.1 L86.6,95.9 Z" fill="#ccff00"/>
<path d="M102.1,96.1 L107.3,93.3 L102.1,91.7 L96.9,94.5 Z" fill="#e0ff00"/>
<path d="M112.5,94.9 L117.7,92.2 L112.5,90.6 L107.3,93.3 Z" fill="#f0ff00"/>
<path d="M122.9,93.9 L128.0,91.2 L122.8,89.5 L117.7,92.2 Z" fill="#fdff00"/>
<path d="M133.3,93.1 L138.4,90.5 L133.2,88.7 L128.0,91.2 Z" fill="#fff500"/>
<path d="M143.6,92.5 L148.8,89.9 L143.6,88.0 L138.4,90.5 Z" fill="#ffeb00"/>
<path d="M154.0,92.0 L159.2,89.5 L154.0,87.5 L148.8,89.9 Z" fill="#ffe400"/>
<path d="M164.4,91.7 L169.7,89.3 L164.5,87.1 L159.2,89.5 Z" fill="#ffe000"/>
<path d="M174.8,91.6 L180.1,89.2 L174.9,86.9 L169.7,89.3 Z" fill="#ffde00"/>
<path d="M185.2,91.6 L190.5,89.2 L185.3,86.9 L180.1,89.2 Z" fill="#ffde00"/>
<path d="M195.6,91.7 L200.9,89.4 L195.7,86.9 L190.5,89.2 Z" fill="#ffe100"/>
<path d="M206.0,92.0 L211.2,89.6 L206.1,87.1 L200.9,89.4 Z" fill="#ffe600"/>
<path d="M216.4,92.4 L221.6,90.0 L216.5,87.4 L211.2,89.6 Z" fill="#ffee00"/>
<path d="M226.8,92.8 L232.0,90.4 L226.8,87.7 L221.6,90.0 Z" fill="#fff900"/>
<path d="M237.1,93.3 L242.3,90.8 L237.2,88.1 L232.0,90.4 Z" fill="#f9ff00"/>
<path d="M247.5,93.8 L252.7,91.3 L247.5,88.5 L242.3,90.8 Z" fill="#ebff00"/>
<path d="M55.8,105.5 L60.9,102.3 L55.7,101.1 L50.6,104.2 Z" fill="#48ff00"/>
<path d="M66.0,103.7 L71.2,100.5 L66.0,99.2 L60.9,102.3 Z" fill="#72ff00"/>
<path d="M76.3,102.0 L81.5,98.9 L76.3,97.5 L71.2,100.5 Z" fill="#98ff00"/>
<path d="M86.6,100.4 L91.8,97.4 L86.6,95.9 L81.5,98.9 Z" fill="#b7ff00"/>
<path d="M97.0,99.0 L102.1,96.1 L96.9,94.5 L91.8,97.4 Z" fill="#d0ff00"/>
<path d="M107.3,97.8 L112.5,94.9 L107.3,93.3 L102.1,96.1 Z" fill="#e2ff00"/>
<path d="M117.7,96.7 L122.9,93.9 L117.7,92.2 L112.5,94.9 Z" fill="#f1ff00"/>
<path d="M128.1,95.8 L133.3,93.1 L128.0,91.2 L122.9,93.9 Z" fill="#fdff00"/>
<path d="M138.5,95.1 L143.6,92.5 L138.4,90.5 L133.3,93.1 Z" fill="#fff700"/>
<path d="M148.8,94.6 L154.0,92.0 L148.8,89.9 L143.6,92.5 Z" fill="#ffef00"/>
<path d="M159.2,94.3 L164.4,91.7 L159.2,89.5 L154.0,92.0 Z" fill="#ffe900"/>
<path d="M169.6,94.1 L174.8,91.6 L169.7,89.3 L164.4,91.7 Z" fill="#ffe600"/>
<path d="M180.0,94.1 L185.2,91.6 L180.1,89.2 L174.8,91.6 Z" fill="#ffe600"/>
<path d="M190.4,94.2 L195.6,91.7 L190.5,89.2 L185.2,91.6 Z" fill="#ffe800"/>
<path d="M200.8,94.4 L206.0,92.0 L200.9,89.4 L195.6,91.7 Z" fill="#ffec00"/>
<path d="M211.2,94.8 L216.4,92.4 L211.2,89.6 L206.0,92.0 Z" fill="#fff300"/>
<path d="M221.5,95.2 L226.8,92.8 L221.6,90.0 L216.4,92.4 Z" fill="#fffc00"/>
<path d="M231.9,95.7 L237.1,93.3 L232.0,90.4 L226.8,92.8 Z" fill="#f7ff00"/>
<path d="M242.2,96.3 L247.5,93.8 L242.3,90.8 L237.1,93.3 Z" fill="#e9ff00"/>
<path d="M60.9,107.0 L66.0,103.7 L60.9,102.3 L55.8,105.5 Z" fill="#54ff00"/>
<path d="M71.2,105.2 L76.3,102.0 L71.2,100.5 L66.0,103.7 Z" fill="#7cff00"/>
<path d="M81.5,103.6 L86.6,100.4 L81.5,98.9 L76.3,102.0 Z" fill="#9eff00"/>
<path d="M91.8,102.1 L97.0,99.0 L91.8,97.4 L86.6,100.4 Z" fill="#bbff00"/>
<path d="M102.2,100.8 L107.3,97.8 L102.1,96.1 L97.0,99.0 Z" fill="#d2ff00"/>
<path d="M112.5,99.7 L117.7,96.7 L112.5,94.9 L107.3,97.8 Z" fill="#e2ff00"/>
<path d="M122.9,98.7 L128.1,95.8 L122.9,93.9 L117.7,96.7 Z" fill="#f0ff00"/>
<path d="M133.3,97.9 L138.5,95.1 L133.3,93.1 L128.1,95.8 Z" fill="#faff00"/>
<path d="M143.7,97.3 L148.8,94.6 L143.6,92.5 L138.5,95.1 Z" fill="#fffb00"/>
<path d="M154.0,96.9 L159.2,94.3 L154.0,92.0 L148.8,94.6 Z" fill="#fff400"/>
<path d="M164.4,96.7 L169.6,94.1 L164.4,91.7 L159.2,94.3 Z" fill="#fff000"/>
<path d="M174.8,96.6 L180.0,94.1 L174.8,91.6 L169.6,94.1 Z" fill="#ffef00"/>
<path d="M185.2,96.7 L190.4,94.2 L185.2,91.6 L180.0,94.1 Z" fill="#fff000"/>
<path d="M195.6,97.0 L200.8,94.4 L195.6,91.7 L190.4,94.2 Z" fill="#fff300"/>
<path d="M206.0,97.3 L211.2,94.8 L206.0,92.0 L200.8,94.4 Z" fill="#fff900"/>
<path d="M216.3,97.8 L221.5,95.2 L216.4,92.4 L211.2,94.8 Z" fill="#fdff00"/>
<path d="M226.7,98.3 L231.9,95.7 L226.8,92.8 L221.5,95.2 Z" fill="#f3ff00"/>
<path d="M237.0,98.9 L242.2,96.3 L237.1,93.3 L231.9,95.7 Z" fill="#e7ff00"/>
<path d="M66.1,108.6 L71.2,105.2 L66.0,103.7 L60.9,107.0 Z" fill="#5dff00"/>
<path d="M76.4,106.9 L81.5,103.6 L76.3,102.0 L71.2,105.2 Z" fill="#83ff00"/>
<path d="M86.7,105.3 L91.8,102.1 L86.6,100.4 L81.5,103.6 Z" fill="#a2ff00"/>
<path d="M97.0,103.9 L102.2,100.8 L97.0,99.0 L91.8,102.1 Z" fill="#bdff00"/>
<path d="M107.4,102.7 L112.5,99.7 L107.3,97.8 L102.2,100.8 Z" fill="#d2ff00"/>
<path d="M117.7,101.7 L122.9,98.7 L117.7,96.7 L112.5,99.7 Z" fill="#e1ff00"/>
<path d="M128.1,100.8 L133.3,97.9 L128.1,95.8 L122.9,98.7 Z" fill="#edff00"/>
<path d="M138.5,100.2 L143.7,97.3 L138.5,95.1 L133.3,97.9 Z" fill="#f6ff00"/>
<path d="M148.8,99.7 L154.0,96.9 L148.8,94.6 L143.7,97.3 Z" fill="#fdff00"/>
<path d="M159.2,99.4 L164.4,96.7 L159.2,94.3 L154.0,96.9 Z" fill="#fffc00"/>
<path d="M169.6,99.3 L174.8,96.6 L169.6,94.1 L164.4,96.7 Z" fill="#fff900"/>
<path d="M180.0,99.4 L185.2,96.7 L180.0,94.1 L174.8,96.6 Z" fill="#fff900"/>
<path d="M190.4,99.6 L195.6,97.0 L190.4,94.2 L185.2,96.7 Z" fill="#fffb00"/>
<path d="M200.8,99.9 L206.0,97.3 L200.8,94.4 L195.6,97.0 Z" fill="#feff00"/>
<path d="M211.1,100.3 L216.3,97.8 L211.2,94.8 L206.0,97.3 Z" fill="#f7ff00"/>
<path d="M221.5,100.9 L226.7,98.3 L221.5,95.2 L216.3,97.8 Z" fill="#eeff00"/>
<path d="M231.8,101.5 L237.0,98.9 L231.9,95.7 L226.7,98.3 Z" fill="#e2ff00"/>
<path d="M71.3,110.3 L76.4,106.9 L71.2,105.2 L66.1,108.6 Z" fill="#63ff00"/>
<path d="M81.6,108.6 L86.7,105.3 L81.5,103.6 L76.4,106.9 Z" fill="#87ff00"/>
<path d="M91.9,107.2 L97.0,103.9 L91.8,102.1 L86.7,105.3 Z" fill="#a4ff00"/>
<path d="M102.2,105.9 L107.4,102.7 L102.2,100.8 L97.0,103.9 Z" fill="#bdff00"/>
<path d="M112.5,104.8 L117.7,101.7 L112.5,99.7 L107.4,102.7 Z" fill="#d0ff00"/>
<path d="M122.9,103.8 L128.1,100.8 L122.9,98.7 L117.7,101.7 Z" fill="#deff00"/>
<path d="M133.3,103.1 L138.5,100.2 L133.3,97.9 L128.1,100.8 Z" fill="#e9ff00"/>
<path d="M143.7,102.6 L148.8,99.7 L143.7,97.3 L138.5,100.2 Z" fill="#f1ff00"/>
<path d="M154.0,102.2 L159.2,99.4 L154.0,96.9 L148.8,99.7 Z" fill="#f6ff00"/>
<path d="M164.4,102.1 L169.6,99.3 L164.4,96.7 L159.2,99.4 Z" fill="#faff00"/>
<path d="M174.8,102.1 L180.0,99.4 L174.8,96.6 L169.6,99.3 Z" fill="#fbff00"/>
<path d="M185.2,102.2 L190.4,99.6 L185.2,96.7 L180.0,99.4 Z" fill="#f9ff00"/>
<path d="M195.5,102.6 L200.8,99.9 L195.6,97.0 L190.4,99.6 Z" fill="#f6ff00"/>
<path d="M205.9,103.0 L211.1,100.3 L206.0,97.3 L200.8,99.9 Z" fill="#f0ff00"/>
<path d="M216.3,103.6 L221.5,100.9 L216.3,97.8 L211.1,100.3 Z" fill="#e8ff00"/>
<path d="M226.6,104.2 L231.8,101.5 L226.7,98.3 L221.5,100.9 Z" fill="#dcff00"/>
<path d="M76.4,112.1 L81.6,108.6 L76.4,106.9 L71.3,110.3 Z" fill="#67ff00"/>
<path d="M86.7,110.6 L91.9,107.2 L86.7,105.3 L81.6,108.6 Z" fill="#88ff00"/>
<path d="M97.1,109.2 L102.2,105.9 L97.0,103.9 L91.9,107.2 Z" fill="#a3ff00"/>
<path d="M107.4,108.0 L112.5,104.8 L107.4,102.7 L102.2,105.9 Z" fill="#baff00"/>
<path d="M117.7,107.0 L122.9,103.8 L117.7,101.7 L112.5,104.8 Z" fill="#ccff00"/>
<path d="M128.1,106.2 L133.3,103.1 L128.1,100.8 L122.9,103.8 Z" fill="#d9ff00"/>
<path d="M138.5,105.5 L143.7,102.6 L138.5,100.2 L133.3,103.1 Z" fill="#e2ff00"/>
<path d="M148.9,105.1 L154.0,102.2 L148.8,99.7 L143.7,102.6 Z" fill="#e9ff00"/>
<path d="M159.2,104.9 L164.4,102.1 L159.2,99.4 L154.0,102.2 Z" fill="#eeff00"/>
<path d="M169.6,104.9 L174.8,102.1 L169.6,99.3 L164.4,102.1 Z" fill="#f0ff00"/>
<path d="M180.0,105.0 L185.2,102.2 L180.0,99.4 L174.8,102.1 Z" fill="#efff00"/>
<path d="M190.3,105.3 L195.5,102.6 L190.4,99.6 L185.2,102.2 Z" fill="#edff00"/>
<path d="M200.7,105.7 L205.9,103.0 L200.8,99.9 L195.5,102.6 Z" fill="#e8ff00"/>
<path d="M211.0,106.3 L216.3,103.6 L211.1,100.3 L205.9,103.0 Z" fill="#e0ff00"/>
<path d="M221.4,106.9 L226.6,104.2 L221.5,100.9 L216.3,103.6 Z" fill="#d5ff00"/>
<path d="M81.6,114.1 L86.7,110.6 L81.6,108.6 L76.4,112.1 Z" fill="#68ff00"/>
<path d="M91.9,112.6 L97.1,109.2 L91.9,107.2 L86.7,110.6 Z" fill="#87ff00"/>
<path d="M102.3,111.3 L107.4,108.0 L102.2,105.9 L97.1,109.2 Z" fill="#a0ff00"/>
<path d="M112.6,110.2 L117.7,107.0 L112.5,104.8 L107.4,108.0 Z" fill="#b5ff00"/>
<path d="M122.9,109.3 L128.1,106.2 L122.9,103.8 L117.7,107.0 Z" fill="#c7ff00"/>
<path d="M133.3,108.6 L138.5,105.5 L133.3,103.1 L128.1,106.2 Z" fill="#d2ff00"/>
<path d="M143.7,108.2 L148.9,105.1 L143.7,102.6 L138.5,105.5 Z" fill="#daff00"/>
<path d="M154.0,107.9 L159.2,104.9 L154.0,102.2 L148.9,105.1 Z" fill="#e0ff00"/>
<path d="M164.4,107.8 L169.6,104.9 L164.4,102.1 L159.2,104.9 Z" fill="#e3ff00"/>
<path d="M174.8,107.9 L180.0,105.0 L174.8,102.1 L169.6,104.9 Z" fill="#e3ff00"/>
<path d="M185.1,108.1 L190.3,105.3 L185.2,102.2 L180.0,105.0 Z" fill="#e2ff00"/>
<path d="M195.5,108.5 L200.7,105.7 L195.5,102.6 L190.3,105.3 Z" fill="#ddff00"/>
<path d="M205.8,109.1 L211.0,106.3 L205.9,103.0 L200.7,105.7 Z" fill="#d6ff00"/>
<path d="M216.2,109.7 L221.4,106.9 L216.3,103.6 L211.0,106.3 Z" fill="#cdff00"/>
<path d="M86.8,116.2 L91.9,112.6 L86.7,110.6 L81.6,114.1 Z" fill="#66ff00"/>
<path d="M97.1,114.8 L102.3,111.3 L97.1,109.2 L91.9,112.6 Z" fill="#83ff00"/>
<path d="M107.4,113.6 L112.6,110.2 L107.4,108.0 L102.3,111.3 Z" fill="#9aff00"/>
<path d="M117.8,112.6 L122.9,109.3 L117.7,107.0 L112.6,110.2 Z" fill="#adff00"/>
<path d="M128.1,111.9 L133.3,108.6 L128.1,106.2 L122.9,109.3 Z" fill="#bdff00"/>
<path d="M138.5,111.3 L143.7,108.2 L138.5,105.5 L133.3,108.6 Z" fill="#c9ff00"/>
<path d="M148.9,110.9 L154.0,107.9 L148.9,105.1 L143.7,108.2 Z" fill="#d0ff00"/>
<path d="M159.2,110.8 L164.4,107.8 L159.2,104.9 L154.0,107.9 Z" fill="#d4ff00"/>
<path d="M169.6,110.8 L174.8,107.9 L169.6,104.9 L164.4,107.8 Z" fill="#d5ff00"/>
<path d="M179.9,111.0 L185.1,108.1 L180.0,105.0 L174.8,107.9 Z" fill="#d5ff00"/>
<path d="M190.3,111.4 L195.5,108.5 L190.3,105.3 L185.1,108.1 Z" fill="#d1ff00"/>
<path d="M200.6,111.9 L205.8,109.1 L200.7,105.7 L195.5,108.5 Z" fill="#cbff00"/>
<path d="M211.0,112.6 L216.2,109.7 L211.0,106.3 L205.8,109.1 Z" fill="#c1ff00"/>
<path d="M92.0,118.4 L97.1,114.8 L91.9,112.6 L86.8,116.2 Z" fill="#61ff00"/>
<path d="M102.3,117.1 L107.4,113.6 L102.3,111.3 L97.1,114.8 Z" fill="#7cff00"/>
<path d="M112.6,116.0 L117.8,112.6 L112.6,110.2 L107.4,113.6 Z" fill="#92ff00"/>
<path d="M123.0,115.2 L128.1,111.9 L122.9,109.3 L117.8,112.6 Z" fill="#a3ff00"/>
<path d="M133.3,114.5 L138.5,111.3 L133.3,108.6 L128.1,111.9 Z" fill="#b1ff00"/>
<path d="M143.7,114.1 L148.9,110.9 L143.7,108.2 L138.5,111.3 Z" fill="#bbff00"/>
<path d="M154.0,113.9 L159.2,110.8 L154.0,107.9 L148.9,110.9 Z" fill="#c2ff00"/>
<path d="M164.4,113.8 L169.6,110.8 L164.4,107.8 L159.2,110.8 Z" fill="#c5ff00"/>
<path d="M174.8,114.0 L179.9,111.0 L174.8,107.9 L169.6,110.8 Z" fill="#c6ff00"/>
<path d="M185.1,114.4 L190.3,111.4 L185.1,108.1 L179.9,111.0 Z" fill="#c3ff00"/>
<path d="M195.4,114.9 L200.6,111.9 L195.5,108.5 L190.3,111.4 Z" fill="#bcff00"/>
<path d="M205.8,115.5 L211.0,112.6 L205.8,109.1 L200.6,111.9 Z" fill="#b2ff00"/>
<path d="M97.2,120.8 L102.3,117.1 L97.1,114.8 L92.0,118.4 Z" fill="#5aff00"/>
<path d="M107.5,119.6 L112.6,116.0 L107.4,113.6 L102.3,117.1 Z" fill="#72ff00"/>
<path d="M117.8,118.6 L123.0,115.2 L117.8,112.6 L112.6,116.0 Z" fill="#87ff00"/>
<path d="M128.2,117.9 L133.3,114.5 L128.1,111.9 L123.0,115.2 Z" fill="#97ff00"/>
<path d="M138.5,117.4 L143.7,114.1 L138.5,111.3 L133.3,114.5 Z" fill="#a2ff00"/>
<path d="M148.9,117.1 L154.0,113.9 L148.9,110.9 L143.7,114.1 Z" fill="#aaff00"/>
<path d="M159.2,117.0 L164.4,113.8 L159.2,110.8 L154.0,113.9 Z" fill="#afff00"/>
<path d="M169.6,117.1 L174.8,114.0 L169.6,110.8 L164.4,113.8 Z" fill="#b1ff00"/>
<path d="M179.9,117.4 L185.1,114.4 L179.9,111.0 L174.8,114.0 Z" fill="#afff00"/>
<path d="M190.2,117.9 L195.4,114.9 L190.3,111.4 L185.1,114.4 Z" fill="#aaff00"/>
<path d="M200.6,118.5 L205.8,115.5 L200.6,111.9 L195.4,114.9 Z" fill="#a1ff00"/>
<path d="M102.4,123.3 L107.5,119.6 L102.3,117.1 L97.2,120.8 Z" fill="#50ff00"/>
<path d="M112.7,122.2 L117.8,118.6 L112.6,116.0 L107.5,119.6 Z" fill="#66ff00"/>
<path d="M123.0,121.4 L128.2,117.9 L123.0,115.2 L117.8,118.6 Z" fill="#78ff00"/>
<path d="M133.3,120.8 L138.5,117.4 L133.3,114.5 L128.2,117.9 Z" fill="#86ff00"/>
<path d="M143.7,120.4 L148.9,117.1 L143.7,114.1 L138.5,117.4 Z" fill="#91ff00"/>
<path d="M154.0,120.2 L159.2,117.0 L154.0,113.9 L148.9,117.1 Z" fill="#97ff00"/>
<path d="M164.4,120.2 L169.6,117.1 L164.4,113.8 L159.2,117.0 Z" fill="#9aff00"/>
<path d="M174.7,120.5 L179.9,117.4 L174.8,114.0 L169.6,117.1 Z" fill="#9aff00"/>
<path d="M185.1,120.9 L190.2,117.9 L185.1,114.4 L179.9,117.4 Z" fill="#96ff00"/>
<path d="M195.4,121.5 L200.6,118.5 L195.4,114.9 L190.2,117.9 Z" fill="#8fff00"/>
<path d="M107.6,125.9 L112.7,122.2 L107.5,119.6 L102.4,123.3 Z" fill="#43ff00"/>
<path d="M117.9,125.0 L123.0,121.4 L117.8,118.6 L112.7,122.2 Z" fill="#57ff00"/>
<path d="M128.2,124.3 L133.3,120.8 L128.2,117.9 L123.0,121.4 Z" fill="#67ff00"/>
<path d="M138.5,123.8 L143.7,120.4 L138.5,117.4 L133.3,120.8 Z" fill="#73ff00"/>
<path d="M148.9,123.5 L154.0,120.2 L148.9,117.1 L143.7,120.4 Z" fill="#7bff00"/>
<path d="M159.2,123.5 L164.4,120.2 L159.2,117.0 L154.0,120.2 Z" fill="#80ff00"/>
<path d="M169.5,123.7 L174.7,120.5 L169.6,117.1 L164.4,120.2 Z" fill="#81ff00"/>
<path d="M179.9,124.1 L185.1,120.9 L179.9,117.4 L174.7,120.5 Z" fill="#7eff00"/>
<path d="M190.2,124.7 L195.4,121.5 L190.2,117.9 L185.1,120.9 Z" fill="#78ff00"/>
<path d="M112.7,128.7 L117.9,125.0 L112.7,122.2 L107.6,125.9 Z" fill="#33ff00"/>
<path d="M123.1,127.9 L128.2,124.3 L123.0,121.4 L117.9,125.0 Z" fill="#45ff00"/>
<path d="M133.4,127.3 L138.5,123.8 L133.3,120.8 L128.2,124.3 Z" fill="#52ff00"/>
<path d="M143.7,127.0 L148.9,123.5 L143.7,120.4 L138.5,123.8 Z" fill="#5cff00"/>
<path d="M154.0,126.9 L159.2,123.5 L154.0,120.2 L148.9,123.5 Z" fill="#63ff00"/>
<path d="M164.4,127.0 L169.5,123.7 L164.4,120.2 L159.2,123.5 Z" fill="#65ff00"/>
<path d="M174.7,127.3 L179.9,124.1 L174.7,120.5 L169.5,123.7 Z" fill="#64ff00"/>
<path d="M185.0,127.8 L190.2,124.7 L185.1,120.9 L179.9,124.1 Z" fill="#5fff00"/>
<path d="M117.9,131.6 L123.1,127.9 L117.9,125.0 L112.7,128.7 Z" fill="#1dff00"/>
<path d="M128.2,131.0 L133.4,127.3 L128.2,124.3 L123.1,127.9 Z" fill="#2fff00"/>
<path d="M138.6,130.5 L143.7,127.0 L138.5,123.8 L133.4,127.3 Z" fill="#3cff00"/>
<path d="M148.9,130.3 L154.0,126.9 L148.9,123.5 L143.7,127.0 Z" fill="#43ff00"/>
<path d="M159.2,130.4 L164.4,127.0 L159.2,123.5 L154.0,126.9 Z" fill="#47ff00"/>
<path d="M169.5,130.6 L174.7,127.3 L169.5,123.7 L164.4,127.0 Z" fill="#48ff00"/>
<path d="M179.8,131.1 L185.0,127.8 L179.9,124.1 L174.7,127.3 Z" fill="#44ff00"/>
<path d="M123.1,134.7 L128.2,131.0 L123.1,127.9 L117.9,131.6 Z" fill="#05ff00"/>
<path d="M133.4,134.2 L138.6,130.5 L133.4,127.3 L128.2,131.0 Z" fill="#14ff00"/>
<path d="M143.7,133.9 L148.9,130.3 L143.7,127.0 L138.6,130.5 Z" fill="#1eff00"/>
<path d="M154.0,133.9 L159.2,130.4 L154.0,126.9 L148.9,130.3 Z" fill="#25ff00"/>
<path d="M164.4,134.0 L169.5,130.6 L164.4,127.0 L159.2,130.4 Z" fill="#27ff00"/>
<path d="M174.7,134.5 L179.8,131.1 L174.7,127.3 L169.5,130.6 Z" fill="#25ff00"/>
<path d="M128.3,138.0 L133.4,134.2 L128.2,131.0 L123.1,134.7 Z" fill="#00fd08"/>
<path d="M138.6,137.6 L143.7,133.9 L138.6,130.5 L133.4,134.2 Z" fill="#00fe04"/>
<path d="M148.9,137.4 L154.0,133.9 L148.9,130.3 L143.7,133.9 Z" fill="#00ff01"/>
<path d="M159.2,137.6 L164.4,134.0 L159.2,130.4 L154.0,133.9 Z" fill="#01ff00"/>
<path d="M169.5,137.9 L174.7,134.5 L169.5,130.6 L164.4,134.0 Z" fill="#01ff00"/>
<path d="M133.4,141.4 L138.6,137.6 L133.4,134.2 L128.3,138.0 Z" fill="#00fb12"/>
<path d="M143.7,141.2 L148.9,137.4 L143.7,133.9 L138.6,137.6 Z" fill="#00fb0f"/>
<path d="M154.0,141.2 L159.2,137.6 L154.0,133.9 L148.9,137.4 Z" fill="#00fc0d"/>
<path d="M164.3,141.4 L169.5,137.9 L164.4,134.0 L159.2,137.6 Z" fill="#00fc0d"/>
<path d="M138.6,145.0 L143.7,141.2 L138.6,137.6 L133.4,141.4 Z" fill="#00f81e"/>
<path d="M148.9,144.9 L154.0,141.2 L148.9,137.4 L143.7,141.2 Z" fill="#00f81b"/>
<path d="M159.2,145.1 L164.3,141.4 L159.2,137.6 L154.0,141.2 Z" fill="#00f91a"/>
<path d="M143.8,148.7 L148.9,144.9 L143.7,141.2 L138.6,145.0 Z" fill="#00f52a"/>
<path d="M154.0,148.8 L159.2,145.1 L154.0,141.2 L148.9,144.9 Z" fill="#00f529"/>
<path d="M148.9,152.7 L154.0,148.8 L148.9,144.9 L143.8,148.7 Z" fill="#00f138"/>
</g>
<path d="M148.5 69 V88" stroke="#700" stroke-width="0.6"/>
<circle cx="148.5" cy="82.7" r="2.2" fill="#c00000" stroke="#400" stroke-width="0.5"/>
<circle cx="148.5" cy="74.6" r="2.2" fill="#dd0000" stroke="#400" stroke-width="0.5"/>
<circle cx="148.5" cy="69.2" r="2.2" fill="#e60000" stroke="#400" stroke-width="0.5"/>
<g fill="#111">
<circle cx="48.2" cy="157.0" r="0.9"/>
<circle cx="46.9" cy="131.0" r="0.9"/>
<circle cx="45.6" cy="105.0" r="0.9"/>
<circle cx="44.3" cy="79.0" r="0.9"/>
<circle cx="43.0" cy="53.0" r="0.9"/>
<circle cx="49.8" cy="189.5" r="0.9"/>
<circle cx="148.9" cy="237.1" r="0.9"/>
<circle cx="69.6" cy="199.0" r="0.9"/>
<circle cx="168.7" cy="227.6" r="0.9"/>
<circle cx="89.4" cy="208.5" r="0.9"/>
<circle cx="188.5" cy="218.0" r="0.9"/>
<circle cx="109.3" cy="218.1" r="0.9"/>
<circle cx="208.4" cy="208.5" r="0.9"/>
<circle cx="129.1" cy="227.6" r="0.9"/>
<circle cx="228.2" cy="198.9" r="0.9"/>
<circle cx="148.9" cy="237.1" r="0.9"/>
<circle cx="248.0" cy="189.4" r="0.9"/>
</g>
<g font-family="Liberation Sans, sans-serif" font-size="6.2" fill="#363636">
<text x="44.8" y="155.4" text-anchor="end">50</text>
<text x="43.5" y="129.4" text-anchor="end">100</text>
<text x="42.2" y="103.4" text-anchor="end">150</text>
<text x="40.9" y="77.4" text-anchor="end">200</text>
<text x="39.6" y="51.4" text-anchor="end">250</text>
<text x="46.3" y="195.8" text-anchor="end">25</text>
<text x="66.1" y="205.3" text-anchor="end">23</text>
<text x="85.9" y="214.8" text-anchor="end">21</text>
<text x="105.8" y="224.4" text-anchor="end">19</text>
<text x="125.6" y="233.9" text-anchor="end">17</text>
<text x="145.4" y="243.4" text-anchor="end">15</text>
<text x="152.9" y="243.0">135</text>
<text x="172.7" y="233.5">137</text>
<text x="192.5" y="223.9">139</text>
<text x="212.4" y="214.4">141</text>
<text x="232.2" y="204.8">143</text>
<text x="252.0" y="195.3">145</text>
</g>
<g font-family="Liberation Sans, sans-serif" font-size="6.03" fill="#363636">
<text x="35.5" y="233">B: Sonication (kHz)</text>
<text x="199.7" y="233">A: Thermal (degree celcius)</text>
<text transform="translate(12.8,122.9) rotate(-90)" text-anchor="middle" font-size="6.16">power density (mW/m2)</text>
</g>
<defs><radialGradient id="cg" gradientUnits="userSpaceOnUse" cx="0" cy="0" r="1" gradientTransform="matrix(-282.876 -147.548 -112.469 215.622 519.67 111.38)">
<stop offset="0.0000" stop-color="#ffb700"/>
<stop offset="0.0167" stop-color="#ffb700"/>
<stop offset="0.0333" stop-color="#ffb800"/>
<stop offset="0.0500" stop-color="#ffb900"/>
<stop offset="0.0667" stop-color="#ffba00"/>
<stop offset="0.0833" stop-color="#ffbb00"/>
<stop offset="0.1000" stop-color="#ffbc00"/>
<stop offset="0.1167" stop-color="#ffbe00"/>
<stop offset="0.1333" stop-color="#ffc000"/>
<stop offset="0.1500" stop-color="#ffc200"/>
<stop offset="0.1667" stop-color="#ffc500"/>
<stop offset="0.1833" stop-color="#ffc800"/>
<stop offset="0.2000" stop-color="#ffcb00"/>
<stop offset="0.2167" stop-color="#ffce00"/>
<stop offset="0.2333" stop-color="#ffd200"/>
<stop offset="0.2500" stop-color="#ffd600"/>
<stop offset="0.2667" stop-color="#ffda00"/>
<stop offset="0.2833" stop-color="#ffde00"/>
<stop offset="0.3000" stop-color="#ffe300"/>
<stop offset="0.3167" stop-color="#ffe800"/>
<stop offset="0.3333" stop-color="#ffed00"/>
<stop offset="0.3500" stop-color="#fff300"/>
<stop offset="0.3667" stop-color="#fff900"/>
<stop offset="0.3833" stop-color="#ffff00"/>
<stop offset="0.4000" stop-color="#f2ff00"/>
<stop offset="0.4167" stop-color="#e4ff00"/>
<stop offset="0.4333" stop-color="#d5ff00"/>
<stop offset="0.4500" stop-color="#c6ff00"/>
<stop offset="0.4667" stop-color="#b6ff00"/>
<stop offset="0.4833" stop-color="#a5ff00"/>
<stop offset="0.5000" stop-color="#94ff00"/>
<stop offset="0.5167" stop-color="#82ff00"/>
<stop offset="0.5333" stop-color="#70ff00"/>
<stop offset="0.5500" stop-color="#5dff00"/>
<stop offset="0.5667" stop-color="#4aff00"/>
<stop offset="0.5833" stop-color="#36ff00"/>
<stop offset="0.6000" stop-color="#21ff00"/>
<stop offset="0.6167" stop-color="#0cff00"/>
<stop offset="0.6333" stop-color="#00ff00"/>
<stop offset="0.6500" stop-color="#00ff00"/>
<stop offset="0.6667" stop-color="#00ff00"/>
<stop offset="0.6833" stop-color="#00ff00"/>
<stop offset="0.7000" stop-color="#00ff00"/>
<stop offset="0.7167" stop-color="#00ff00"/>
<stop offset="0.7333" stop-color="#00ff00"/>
<stop offset="0.7500" stop-color="#00ff00"/>
<stop offset="0.7667" stop-color="#00ff00"/>
<stop offset="0.7833" stop-color="#00ff00"/>
<stop offset="0.8000" stop-color="#00ff00"/>
<stop offset="0.8167" stop-color="#00ff00"/>
<stop offset="0.8333" stop-color="#00ff00"/>
<stop offset="0.8500" stop-color="#00ff00"/>
<stop offset="0.8667" stop-color="#00ff00"/>
<stop offset="0.8833" stop-color="#00ff00"/>
<stop offset="0.9000" stop-color="#00ff00"/>
<stop offset="0.9167" stop-color="#00ff00"/>
<stop offset="0.9333" stop-color="#00ff00"/>
<stop offset="0.9500" stop-color="#00ff00"/>
<stop offset="0.9667" stop-color="#00ff00"/>
<stop offset="0.9833" stop-color="#00ff00"/>
<stop offset="1.0000" stop-color="#00ff00"/>
</radialGradient><clipPath id="cp"><rect x="338.5" y="13.5" width="205.0" height="204.9"/></clipPath></defs>
<rect x="338.5" y="13.5" width="205.0" height="204.9" fill="url(#cg)"/>
<g clip-path="url(#cp)" fill="none" stroke="#111" stroke-opacity="0.9" stroke-width="0.7">
<path d="M300.6,-2.9 L295.6,7.8 L291.4,19.0 L288.2,30.4 L285.8,42.2 L284.4,54.3 L283.9,66.6 L284.4,79.1 L285.8,91.7 L288.1,104.4 L291.3,117.1 L295.4,129.8 L300.4,142.4 L306.2,154.9 L312.9,167.2 L320.5,179.3 L328.8,191.1 L337.8,202.7 L347.6,213.8 L358.1,224.6 L369.2,234.9 L380.8,244.7 L393.1,254.0 L405.8,262.7 L419.0,270.8 L432.6,278.3 L446.5,285.2 L460.7,291.4 L475.2,296.8 L489.8,301.5 L504.5,305.5 L519.3,308.7 L534.1,311.1 L548.9,312.7 L563.5,313.6 L578.0,313.6 L592.2,312.9 L606.1,311.3 L619.7,309.0 L632.9,305.8 L645.7,302.0 L658.0,297.3 L669.7,291.9 L680.8,285.9 L691.3,279.1 L701.1,271.6 L710.2,263.6 L718.5,254.9 L726.1,245.7 L732.8,235.9 L738.7,225.6 L743.8,214.9 L747.9,203.8 L751.2,192.3 L753.5,180.5 L754.9,168.4 L755.4,156.1 L755.0,143.7 L753.6,131.1 L751.3,118.4 L748.1,105.7 L744.0,93.0 L739.0,80.4 L733.1,67.9 L726.4,55.6 L718.9,43.5 L710.6,31.6 L701.5,20.1 L691.7,8.9 L681.3,-1.8 L670.2,-12.1 L658.5,-21.9 L646.3,-31.2 L633.5,-40.0 L620.3,-48.1 L606.8,-55.6 L592.8,-62.4 L578.6,-68.6 L564.2,-74.0 L549.6,-78.8 L534.8,-82.7 L520.0,-85.9 L505.2,-88.3 L490.5,-90.0 L475.8,-90.8 L461.4,-90.9 L447.1,-90.1 L433.2,-88.6 L419.6,-86.2 L406.4,-83.1 L393.6,-79.2 L381.4,-74.6 L369.7,-69.2 L358.6,-63.1 L348.1,-56.3 L338.3,-48.9 L329.2,-40.8 L320.8,-32.1 L313.3,-22.9 L306.5,-13.1 L300.6,-2.9"/>
<path d="M323.1,8.8 L318.6,18.4 L314.8,28.4 L311.9,38.7 L309.8,49.3 L308.6,60.2 L308.1,71.2 L308.5,82.4 L309.7,93.7 L311.8,105.1 L314.7,116.5 L318.4,127.9 L322.9,139.2 L328.1,150.4 L334.1,161.5 L340.9,172.3 L348.3,183.0 L356.5,193.3 L365.2,203.3 L374.6,213.0 L384.6,222.2 L395.1,231.0 L406.1,239.4 L417.5,247.2 L429.3,254.5 L441.5,261.2 L454.0,267.4 L466.8,272.9 L479.7,277.8 L492.9,282.0 L506.1,285.6 L519.4,288.5 L532.7,290.6 L545.9,292.1 L559.0,292.8 L572.0,292.9 L584.8,292.2 L597.3,290.8 L609.5,288.7 L621.3,285.9 L632.8,282.4 L643.8,278.2 L654.3,273.4 L664.3,268.0 L673.7,261.9 L682.5,255.2 L690.6,248.0 L698.1,240.2 L704.9,231.9 L711.0,223.1 L716.3,213.9 L720.8,204.3 L724.5,194.3 L727.4,184.0 L729.5,173.4 L730.8,162.6 L731.2,151.6 L730.8,140.4 L729.6,129.0 L727.5,117.7 L724.7,106.3 L721.0,94.9 L716.5,83.5 L711.2,72.3 L705.2,61.3 L698.5,50.4 L691.0,39.8 L682.9,29.5 L674.1,19.5 L664.7,9.8 L654.8,0.6 L644.3,-8.3 L633.3,-16.6 L621.9,-24.4 L610.0,-31.7 L597.8,-38.5 L585.3,-44.6 L572.6,-50.1 L559.6,-55.0 L546.5,-59.3 L533.3,-62.8 L520.0,-65.7 L506.7,-67.9 L493.5,-69.3 L480.3,-70.1 L467.4,-70.1 L454.6,-69.4 L442.1,-68.0 L429.9,-65.9 L418.0,-63.1 L406.6,-59.7 L395.6,-55.5 L385.1,-50.7 L375.1,-45.2 L365.7,-39.1 L356.9,-32.4 L348.7,-25.2 L341.2,-17.4 L334.4,-9.1 L328.4,-0.4 L323.1,8.8"/>
<path d="M348.5,22.1 L344.5,30.4 L341.3,39.1 L338.7,48.1 L336.9,57.3 L335.8,66.8 L335.4,76.4 L335.8,86.1 L336.9,96.0 L338.6,105.9 L341.2,115.8 L344.4,125.8 L348.3,135.6 L352.9,145.4 L358.1,155.0 L364.0,164.5 L370.5,173.7 L377.5,182.7 L385.2,191.4 L393.4,199.8 L402.0,207.9 L411.2,215.6 L420.7,222.8 L430.7,229.7 L441.0,236.0 L451.6,241.9 L462.5,247.2 L473.6,252.0 L484.9,256.3 L496.3,260.0 L507.8,263.1 L519.4,265.6 L531.0,267.5 L542.5,268.8 L553.9,269.4 L565.2,269.4 L576.4,268.9 L587.2,267.6 L597.9,265.8 L608.2,263.4 L618.2,260.3 L627.8,256.7 L636.9,252.5 L645.6,247.7 L653.8,242.4 L661.5,236.6 L668.6,230.3 L675.1,223.6 L681.0,216.3 L686.3,208.7 L690.9,200.7 L694.8,192.3 L698.1,183.6 L700.6,174.6 L702.4,165.4 L703.5,156.0 L703.9,146.4 L703.6,136.6 L702.5,126.8 L700.7,116.9 L698.2,106.9 L695.0,97.0 L691.1,87.1 L686.5,77.4 L681.2,67.7 L675.4,58.3 L668.9,49.0 L661.8,40.0 L654.2,31.3 L646.0,22.9 L637.3,14.9 L628.2,7.2 L618.6,-0.1 L608.7,-6.9 L598.4,-13.3 L587.7,-19.1 L576.9,-24.5 L565.7,-29.3 L554.5,-33.5 L543.0,-37.2 L531.5,-40.3 L519.9,-42.8 L508.4,-44.7 L496.8,-46.0 L485.4,-46.7 L474.1,-46.7 L463.0,-46.1 L452.1,-44.9 L441.5,-43.1 L431.1,-40.6 L421.2,-37.6 L411.6,-33.9 L402.4,-29.7 L393.7,-25.0 L385.5,-19.7 L377.9,-13.9 L370.8,-7.6 L364.3,-0.8 L358.3,6.4 L353.1,14.1 L348.5,22.1"/>
<path d="M376.8,36.8 L373.5,43.8 L370.8,51.1 L368.7,58.6 L367.1,66.3 L366.2,74.2 L365.9,82.2 L366.2,90.3 L367.1,98.5 L368.6,106.8 L370.7,115.1 L373.4,123.4 L376.6,131.6 L380.4,139.8 L384.8,147.8 L389.7,155.7 L395.1,163.4 L401.0,170.9 L407.4,178.2 L414.2,185.2 L421.5,191.9 L429.1,198.3 L437.1,204.4 L445.4,210.1 L454.0,215.4 L462.9,220.3 L471.9,224.8 L481.2,228.8 L490.6,232.3 L500.2,235.4 L509.8,238.0 L519.4,240.1 L529.1,241.7 L538.7,242.7 L548.3,243.3 L557.7,243.3 L567.0,242.8 L576.1,241.8 L584.9,240.3 L593.6,238.2 L601.9,235.7 L609.9,232.7 L617.5,229.2 L624.8,225.2 L631.6,220.8 L638.0,215.9 L644.0,210.7 L649.4,205.0 L654.3,199.0 L658.7,192.6 L662.6,185.9 L665.9,178.9 L668.6,171.7 L670.7,164.2 L672.2,156.5 L673.1,148.6 L673.4,140.6 L673.2,132.4 L672.3,124.2 L670.8,115.9 L668.7,107.7 L666.0,99.4 L662.7,91.1 L658.9,83.0 L654.5,75.0 L649.6,67.1 L644.2,59.3 L638.3,51.8 L631.9,44.6 L625.1,37.5 L617.9,30.8 L610.2,24.4 L602.3,18.4 L593.9,12.7 L585.3,7.3 L576.5,2.5 L567.4,-2.0 L558.1,-6.0 L548.7,-9.6 L539.2,-12.7 L529.5,-15.2 L519.9,-17.3 L510.2,-18.9 L500.6,-20.0 L491.1,-20.5 L481.6,-20.6 L472.4,-20.1 L463.3,-19.0 L454.4,-17.5 L445.8,-15.5 L437.5,-12.9 L429.5,-9.9 L421.8,-6.4 L414.6,-2.4 L407.7,2.0 L401.3,6.8 L395.4,12.1 L389.9,17.8 L385.0,23.8 L380.6,30.2 L376.8,36.8"/>
<path d="M412.3,55.4 L409.8,60.6 L407.8,66.1 L406.2,71.7 L405.1,77.5 L404.4,83.4 L404.1,89.4 L404.3,95.6 L405.0,101.7 L406.1,107.9 L407.7,114.2 L409.7,120.4 L412.2,126.6 L415.0,132.7 L418.3,138.7 L422.0,144.7 L426.1,150.5 L430.5,156.1 L435.3,161.6 L440.5,166.9 L445.9,171.9 L451.6,176.7 L457.6,181.3 L463.9,185.6 L470.3,189.5 L477.0,193.2 L483.8,196.6 L490.8,199.6 L497.9,202.3 L505.0,204.6 L512.2,206.5 L519.5,208.1 L526.8,209.3 L534.0,210.1 L541.2,210.5 L548.2,210.5 L555.2,210.1 L562.1,209.4 L568.7,208.2 L575.2,206.7 L581.4,204.8 L587.5,202.5 L593.2,199.9 L598.6,196.9 L603.8,193.6 L608.6,189.9 L613.1,186.0 L617.1,181.7 L620.8,177.2 L624.2,172.4 L627.0,167.4 L629.5,162.1 L631.5,156.7 L633.1,151.1 L634.3,145.3 L635.0,139.4 L635.2,133.3 L635.0,127.2 L634.3,121.0 L633.2,114.8 L631.6,108.6 L629.6,102.4 L627.2,96.2 L624.3,90.1 L621.0,84.0 L617.3,78.1 L613.2,72.3 L608.8,66.6 L604.0,61.2 L598.9,55.9 L593.5,50.8 L587.7,46.0 L581.7,41.5 L575.5,37.2 L569.0,33.2 L562.4,29.5 L555.5,26.2 L548.6,23.2 L541.5,20.5 L534.3,18.2 L527.1,16.2 L519.8,14.7 L512.6,13.5 L505.4,12.7 L498.2,12.3 L491.1,12.2 L484.1,12.6 L477.3,13.4 L470.6,14.5 L464.1,16.1 L457.9,18.0 L451.9,20.2 L446.1,22.9 L440.7,25.9 L435.6,29.2 L430.7,32.8 L426.3,36.8 L422.2,41.0 L418.5,45.6 L415.2,50.3 L412.3,55.4"/>
<path d="M465.8,83.3 L464.5,85.9 L463.5,88.6 L462.7,91.5 L462.1,94.4 L461.8,97.3 L461.7,100.4 L461.8,103.4 L462.1,106.5 L462.7,109.7 L463.5,112.8 L464.5,115.9 L465.7,119.0 L467.2,122.1 L468.8,125.1 L470.7,128.1 L472.7,131.0 L474.9,133.8 L477.3,136.6 L479.9,139.2 L482.6,141.8 L485.5,144.2 L488.5,146.5 L491.7,148.6 L494.9,150.6 L498.2,152.5 L501.7,154.1 L505.2,155.7 L508.7,157.0 L512.3,158.2 L515.9,159.1 L519.6,159.9 L523.2,160.5 L526.9,160.9 L530.5,161.1 L534.0,161.1 L537.5,161.0 L540.9,160.6 L544.3,160.0 L547.5,159.2 L550.7,158.3 L553.7,157.1 L556.6,155.8 L559.3,154.3 L561.9,152.6 L564.3,150.8 L566.5,148.8 L568.6,146.7 L570.5,144.4 L572.1,142.0 L573.6,139.5 L574.8,136.9 L575.8,134.1 L576.6,131.3 L577.2,128.4 L577.5,125.4 L577.7,122.4 L577.6,119.3 L577.2,116.2 L576.7,113.1 L575.9,110.0 L574.9,106.9 L573.6,103.7 L572.2,100.7 L570.5,97.6 L568.7,94.7 L566.6,91.8 L564.4,88.9 L562.0,86.2 L559.4,83.5 L556.7,81.0 L553.8,78.6 L550.8,76.3 L547.7,74.1 L544.4,72.1 L541.1,70.3 L537.7,68.6 L534.2,67.1 L530.6,65.8 L527.0,64.6 L523.4,63.6 L519.8,62.8 L516.1,62.2 L512.5,61.8 L508.9,61.6 L505.3,61.6 L501.8,61.8 L498.4,62.2 L495.1,62.8 L491.8,63.5 L488.7,64.5 L485.6,65.6 L482.8,67.0 L480.0,68.5 L477.4,70.1 L475.0,71.9 L472.8,73.9 L470.7,76.1 L468.9,78.3 L467.2,80.7 L465.8,83.3"/>
</g>
<g stroke="#333" stroke-width="0.7" fill="none">
<path d="M338.5 13.5 V218.4 H543.5"/>
<path d="M338.5 13.5 H543.5 V218.4" stroke="#777" stroke-width="0.6"/>
<path d="M338.5 218.4 v4.2"/>
<path d="M338.5 13.5 h-4.6"/>
<path d="M379.5 218.4 v4.2"/>
<path d="M338.5 54.5 h-4.6"/>
<path d="M420.5 218.4 v4.2"/>
<path d="M338.5 95.5 h-4.6"/>
<path d="M461.5 218.4 v4.2"/>
<path d="M338.5 136.4 h-4.6"/>
<path d="M502.5 218.4 v4.2"/>
<path d="M338.5 177.4 h-4.6"/>
<path d="M543.5 218.4 v4.2"/>
<path d="M338.5 218.4 h-4.6"/>
</g>
<g font-family="Liberation Sans, sans-serif" font-size="5.9" fill="#363636">
<text x="338.5" y="230.2" text-anchor="middle">135</text>
<text x="379.5" y="230.2" text-anchor="middle">137</text>
<text x="420.5" y="230.2" text-anchor="middle">139</text>
<text x="461.5" y="230.2" text-anchor="middle">141</text>
<text x="502.5" y="230.2" text-anchor="middle">143</text>
<text x="543.5" y="230.2" text-anchor="middle">145</text>
<text x="331.2" y="15.7" text-anchor="end">25</text>
<text x="331.2" y="56.7" text-anchor="end">23</text>
<text x="331.2" y="97.7" text-anchor="end">21</text>
<text x="331.2" y="138.6" text-anchor="end">19</text>
<text x="331.2" y="179.6" text-anchor="end">17</text>
<text x="331.2" y="220.6" text-anchor="end">15</text>
</g>
<g font-family="Liberation Sans, sans-serif" font-size="6.75" fill="#363636">
<text x="440.7" y="246.4" text-anchor="middle">A: Thermal (degree celcius)</text>
<text transform="translate(308,113.5) rotate(-90)" text-anchor="middle">B: Sonication (kHz)</text>
</g>
<text x="440.9" y="9.4" text-anchor="middle" font-family="Liberation Sans, sans-serif" font-size="8.7" fill="#333">power density (mW/m2)</text>
<g font-family="Liberation Sans, sans-serif" font-size="3.6" text-anchor="middle">
<rect x="340.8" y="21.0" width="8.4" height="5" fill="#fff" stroke="#444" stroke-width="0.4"/>
<text x="345.0" y="24.8" fill="#333">160</text>
<rect x="375.0" y="131.2" width="8.4" height="5" fill="#fff" stroke="#444" stroke-width="0.4"/>
<text x="379.2" y="135.0" fill="#333">170</text>
<rect x="410.8" y="128.9" width="8.4" height="5" fill="#fff" stroke="#444" stroke-width="0.4"/>
<text x="415.0" y="132.7" fill="#333">180</text>
<rect x="455.9" y="98.1" width="8.4" height="5" fill="#fff" stroke="#444" stroke-width="0.4"/>
<text x="460.1" y="101.9" fill="#333">190</text>
<rect x="529.1" y="13.8" width="8.4" height="5" fill="#fff" stroke="#444" stroke-width="0.4"/>
<text x="533.3" y="17.6" fill="#333">180</text>
<rect x="365.0" y="167.3" width="8.4" height="5" fill="#fff" stroke="#444" stroke-width="0.4"/>
<text x="369.2" y="171.1" fill="#333">160</text>
<rect x="353.9" y="190.2" width="8.4" height="5" fill="#fff" stroke="#444" stroke-width="0.4"/>
<text x="358.1" y="194.0" fill="#333">150</text>
<rect x="340.0" y="205.7" width="8.4" height="5" fill="#fff" stroke="#444" stroke-width="0.4"/>
<text x="344.2" y="209.5" fill="#333">140</text>
</g>
<circle cx="441" cy="115.9" r="2.1" fill="#ee0000" stroke="#600" stroke-width="0.6"/>
<text x="436.3" y="117.3" text-anchor="middle" font-family="Liberation Sans, sans-serif" font-size="3.6" fill="#333">6</text>
<text x="141.5" y="268.2" text-anchor="middle" font-family="Liberation Serif, serif" font-size="15.3" fill="#111">(<tspan font-weight="bold">a</tspan>)</text>
<text x="424.4" y="268.2" text-anchor="middle" font-family="Liberation Serif, serif" font-size="15.3" fill="#111">(<tspan font-weight="bold">b</tspan>)</text>
</svg></body></html>
